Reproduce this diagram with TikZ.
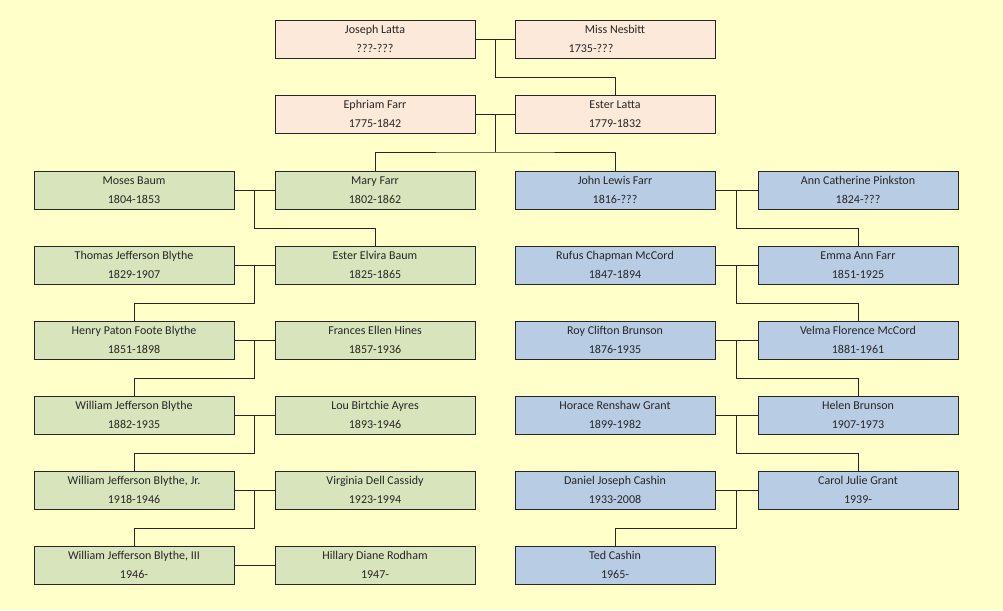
\documentclass[tikz,border=0pt]{standalone}
\usepackage{fontspec}
\setmainfont{Carlito}
\usetikzlibrary{calc}
\definecolor{bg}{HTML}{FFFFC9}
\definecolor{pk}{HTML}{FDE9D9}
\definecolor{gr}{HTML}{D8E4BC}
\definecolor{bl}{HTML}{B8CCE4}
\begin{document}
\begin{tikzpicture}[x=1pt,y=-1pt,
  p/.style={draw=black!85,line width=0.7pt,minimum width=200pt,minimum height=38pt,inner sep=0pt,align=center,font=\fontsize{12}{19}\selectfont,text=black!85},
  pkb/.style={p,fill=pk},grb/.style={p,fill=gr},blb/.style={p,fill=bl},
  ln/.style={line width=0.7pt,black!85}]
\fill[bg] (0,0) rectangle (1003,610);
\useasboundingbox (0,0) rectangle (1003,610);
\node[pkb] (jl) at (375,39) {Joseph Latta\\???-???};
\node[pkb] (mn) at (615,39) {Miss Nesbitt\\\hspace*{-48pt}1735-???};
\node[pkb] (ef) at (375,114) {Ephriam Farr\\1775-1842};
\node[pkb] (el) at (615,114) {Ester Latta\\1779-1832};
\node[grb] (mb) at (134,190) {Moses Baum\\1804-1853};
\node[grb] (mf) at (375,190) {Mary Farr\\1802-1862};
\node[blb] (jf) at (615,190) {John Lewis Farr\\1816-???};
\node[blb] (ap) at (858,190) {Ann Catherine Pinkston\\1824-???};
\node[grb] (tb) at (134,265) {Thomas Jefferson Blythe\\1829-1907};
\node[grb] (eb) at (375,265) {Ester Elvira Baum\\1825-1865};
\node[blb] (rm) at (615,265) {Rufus Chapman McCord\\1847-1894};
\node[blb] (ea) at (858,265) {Emma Ann Farr\\1851-1925};
\node[grb] (hb) at (134,340) {Henry Paton Foote Blythe\\1851-1898};
\node[grb] (fh) at (375,340) {Frances Ellen Hines\\1857-1936};
\node[blb] (rb) at (615,340) {Roy Clifton Brunson\\1876-1935};
\node[blb] (vm) at (858,340) {Velma Florence McCord\\1881-1961};
\node[grb] (wb) at (134,415) {William Jefferson Blythe\\1882-1935};
\node[grb] (la) at (375,415) {Lou Birtchie Ayres\\1893-1946};
\node[blb] (hg) at (615,415) {Horace Renshaw Grant\\1899-1982};
\node[blb] (hbr) at (858,415) {Helen Brunson\\1907-1973};
\node[grb] (wj) at (134,490) {William Jefferson Blythe, Jr.\\1918-1946};
\node[grb] (vc) at (375,490) {Virginia Dell Cassidy\\1923-1994};
\node[blb] (dc) at (615,490) {Daniel Joseph Cashin\\1933-2008};
\node[blb] (cg) at (858,490) {Carol Julie Grant\\1939-};
\node[grb] (w3) at (134,565) {William Jefferson Blythe, III\\1946-};
\node[grb] (hr) at (375,565) {Hillary Diane Rodham\\1947-};
\node[blb] (tc) at (615,565) {Ted Cashin\\1965-};
% couples
\foreach \a/\b/\c/\k in {jl/mn/el/1,mb/mf/eb/3,jf/ap/ea/4,tb/eb/hb/5,rm/ea/vm/6,hb/fh/wb/7,rb/vm/hbr/8,wb/la/wj/9,hg/hbr/cg/10,wj/vc/w3/11,dc/cg/tc/12}{
  \draw[ln] (\a.east) -- coordinate (m\k) (\b.west);
  \draw[ln] (m\k) -- ++(0,38) -| (\c.north);
}
\draw[ln] (ef.east) -- coordinate (m2) (el.west);
\draw[ln] (m2) -- ++(0,38) coordinate (j2);
\draw[ln] (mf.north) |- (j2) -| (jf.north);
\draw[ln] (w3.east) -- (hr.west);
\end{tikzpicture}
\end{document}
